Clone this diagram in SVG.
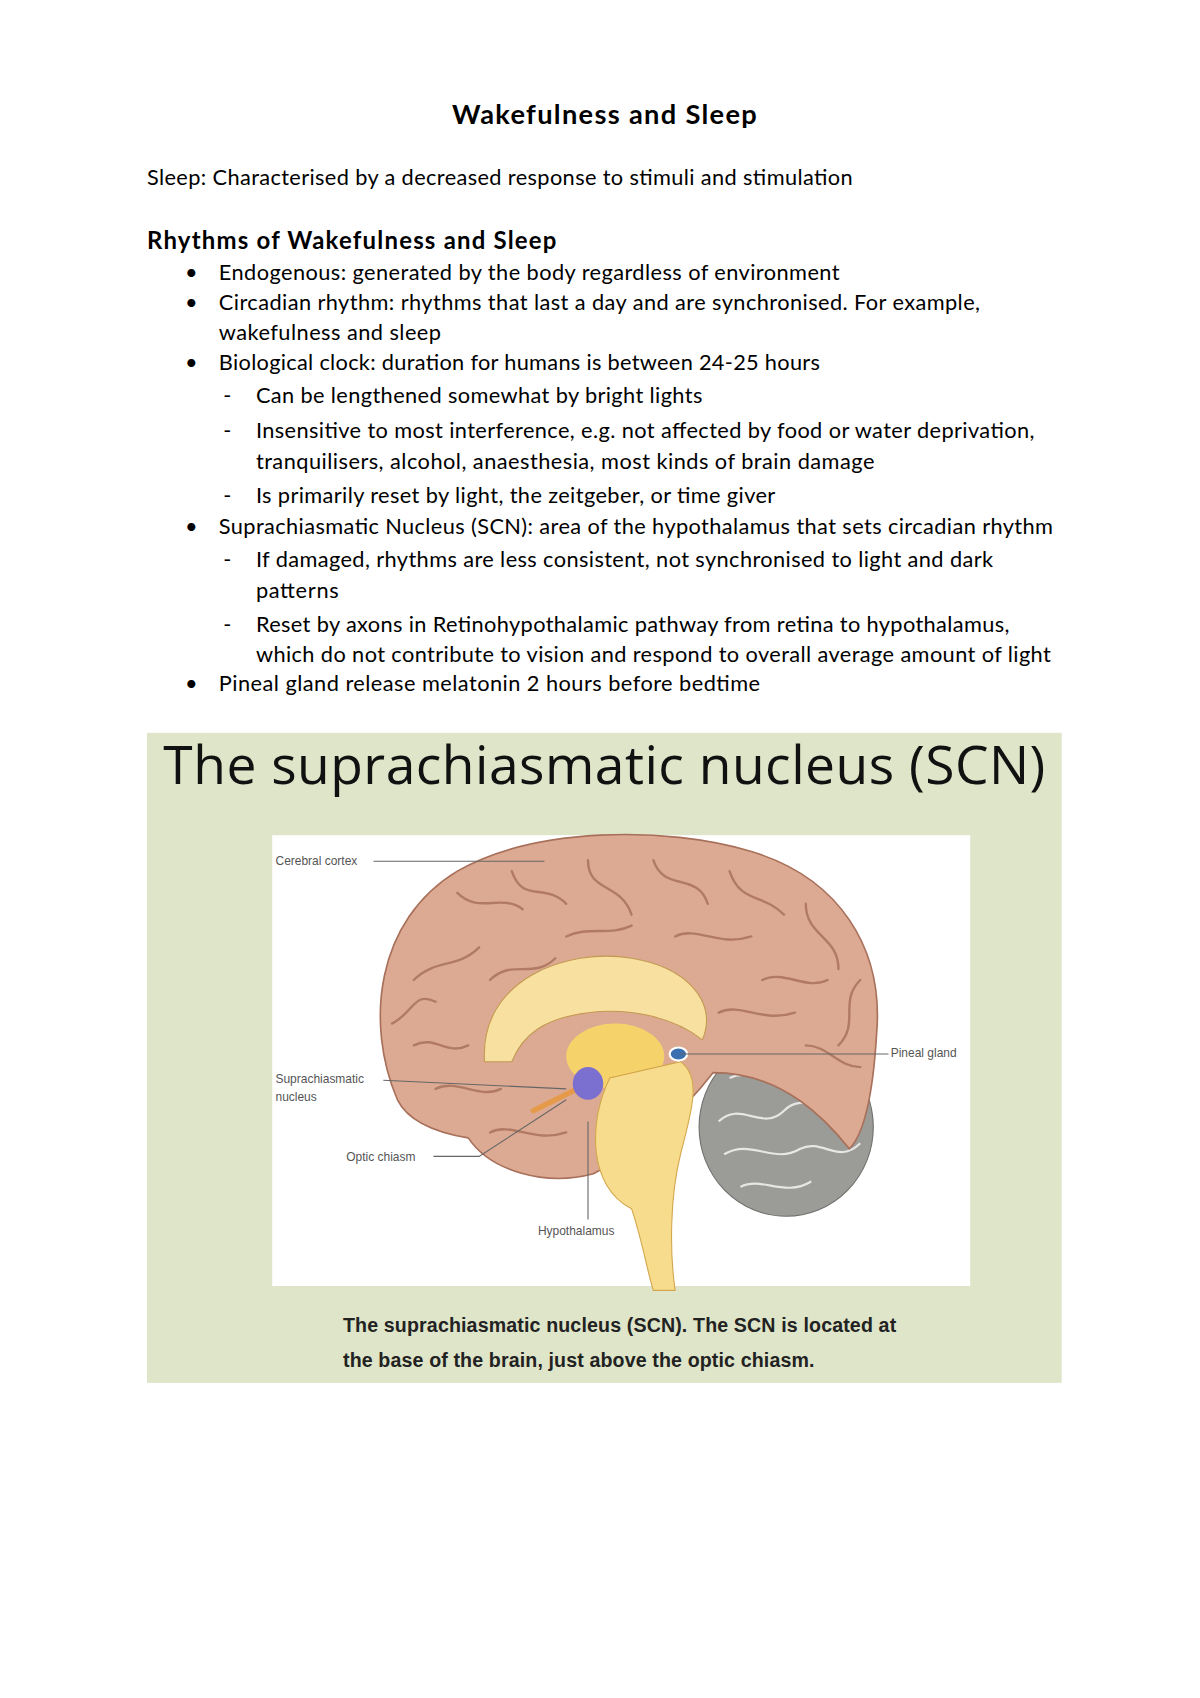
<svg xmlns="http://www.w3.org/2000/svg" width="1200" height="1698" viewBox="0 0 1200 1698">
<style>
.t{font-family:Lato,"Liberation Sans",sans-serif;font-size:20px;fill:#000}
.b{font-weight:bold}
.h1{font-size:25px}
.h2{font-size:22px}
.lbl{font-family:"Liberation Sans",sans-serif;font-size:11px;fill:#555}
.ln{stroke:#666;stroke-width:1;fill:none}
.gy{fill:none;stroke:#b07a64;stroke-width:2.2;stroke-linecap:round}
.cap{font-family:"Liberation Sans",sans-serif;font-weight:bold;font-size:18px;fill:#222}
</style>
<rect width="1200" height="1698" fill="#fff"/>
<g transform="scale(1.0889)">
<g id="text">
<text class="t b h1" x="415" y="114" textLength="280">Wakefulness and Sleep</text>
<text class="t" x="135" y="170" textLength="648">Sleep: Characterised by a decreased response to stimuli and stimulation</text>
<text class="t b h2" x="135" y="229" textLength="376">Rhythms of Wakefulness and Sleep</text>
<text class="t" x="170" y="257">•</text><text class="t" x="201" y="257" textLength="570">Endogenous: generated by the body regardless of environment</text>
<text class="t" x="170" y="285">•</text><text class="t" x="201" y="285" textLength="699">Circadian rhythm: rhythms that last a day and are synchronised. For example,</text>
<text class="t" x="201" y="312" textLength="204">wakefulness and sleep</text>
<text class="t" x="170" y="340">•</text><text class="t" x="201" y="340" textLength="552">Biological clock: duration for humans is between 24-25 hours</text>
<text class="t" x="205" y="370">-</text><text class="t" x="235" y="370" textLength="410">Can be lengthened somewhat by bright lights</text>
<text class="t" x="205" y="402">-</text><text class="t" x="235" y="402" textLength="715">Insensitive to most interference, e.g. not affected by food or water deprivation,</text>
<text class="t" x="235" y="431" textLength="568">tranquilisers, alcohol, anaesthesia, most kinds of brain damage</text>
<text class="t" x="205" y="462">-</text><text class="t" x="235" y="462" textLength="477">Is primarily reset by light, the zeitgeber, or time giver</text>
<text class="t" x="170" y="490">•</text><text class="t" x="201" y="490" textLength="766">Suprachiasmatic Nucleus (SCN): area of the hypothalamus that sets circadian rhythm</text>
<text class="t" x="205" y="521">-</text><text class="t" x="235" y="521" textLength="677">If damaged, rhythms are less consistent, not synchronised to light and dark</text>
<text class="t" x="235" y="549" textLength="76">patterns</text>
<text class="t" x="205" y="580">-</text><text class="t" x="235" y="580" textLength="692">Reset by axons in Retinohypothalamic pathway from retina to hypothalamus,</text>
<text class="t" x="235" y="608" textLength="730">which do not contribute to vision and respond to overall average amount of light</text>
<text class="t" x="170" y="635">•</text><text class="t" x="201" y="635" textLength="497">Pineal gland release melatonin 2 hours before bedtime</text>
</g>
<g id="figure">
<rect x="135" y="673" width="840" height="597" fill="#dfe5c9"/>
<text x="150" y="720" font-family="'Open Sans',sans-serif" font-size="49" fill="#111" textLength="810">The suprachiasmatic nucleus (SCN)</text>
<rect x="250" y="767" width="641" height="414" fill="#fff"/>
<g id="brain">
<ellipse cx="722" cy="1035" rx="80" ry="82" fill="#9b9b98" stroke="#6f6f6c"/>
<path d="M660 1030 C680 1010 700 1040 720 1020 C740 1000 760 1030 780 1010 M665 1060 C690 1045 710 1070 735 1055 C755 1045 770 1070 790 1050 M670 990 C690 980 700 1000 720 985 C740 975 755 995 770 985 M680 1090 C700 1080 720 1100 745 1085" stroke="#e6e6e4" stroke-width="2" fill="none"/>
<path d="M365 1010 C335 940 345 845 420 800 C490 760 610 758 690 782 C770 806 812 870 805 950 C802 1000 795 1040 780 1055 C760 1030 720 985 655 985 C620 1030 580 1060 545 1078 C500 1090 450 1075 430 1045 C400 1040 375 1030 365 1010 Z" fill="#dcaa92" stroke="#a86f5a" stroke-width="1.5"/>
<path class="gy" d="M380 900 C400 880 420 890 440 870 M420 820 C440 840 460 820 480 835 M470 800 C480 830 500 810 520 830 M540 790 C540 820 570 810 580 840 M600 790 C610 820 640 800 650 830 M670 800 C680 830 700 820 720 840 M740 830 C740 860 770 860 770 890 M790 900 C770 920 790 940 770 960 M380 960 C400 950 410 970 430 960 M360 940 C380 930 380 910 400 920 M450 900 C470 880 490 900 510 880 M520 860 C540 850 560 860 580 850 M620 860 C640 850 660 870 690 860 M700 900 C720 890 740 910 760 900 M660 930 C680 920 700 940 730 930 M740 960 C760 960 770 980 790 980 M400 1000 C420 990 440 1010 460 1000 M450 1040 C470 1030 490 1050 520 1040"/>
<path d="M445 975 C440 900 520 870 580 880 C630 888 660 920 645 955 C620 935 580 925 540 930 C500 935 480 950 470 975 Z" fill="#f7e0a0" stroke="#c49a50" stroke-width="1"/>
<ellipse cx="565" cy="970" rx="45" ry="30" fill="#f5d36a"/>
<path d="M560 990 C540 1030 540 1090 580 1110 C590 1140 595 1170 600 1185 L620 1185 C615 1150 615 1100 625 1060 C635 1020 645 990 625 975 Z" fill="#f6dc8c" stroke="#d4a64c"/>
<path d="M490 1020 L530 1000" stroke="#e59a4a" stroke-width="5" stroke-linecap="round"/>
<ellipse cx="540" cy="995" rx="14" ry="15" fill="#7b6fd0"/>
<ellipse cx="623" cy="968" rx="8" ry="6" fill="#3a6fb0" stroke="#fff" stroke-width="2"/>
</g>
<g id="connectors">
<path class="ln" d="M343 791 H500"/>
<path class="ln" d="M625 968 H816"/>
<path class="ln" d="M352 992 L520 1000"/>
<path class="ln" d="M398 1062 H440 L520 1010"/>
<path class="ln" d="M540 1120 V1030"/>
</g>
<g id="labels">
<text class="lbl" x="253" y="794">Cerebral cortex</text>
<text class="lbl" x="818" y="971">Pineal gland</text>
<text class="lbl" x="253" y="995">Suprachiasmatic</text>
<text class="lbl" x="253" y="1011">nucleus</text>
<text class="lbl" x="318" y="1066">Optic chiasm</text>
<text class="lbl" x="494" y="1134">Hypothalamus</text>
</g>
<text class="cap" x="315" y="1223" textLength="508">The suprachiasmatic nucleus (SCN). The SCN is located at</text>
<text class="cap" x="315" y="1255" textLength="433">the base of the brain, just above the optic chiasm.</text>
</g>
</g>
</svg>
